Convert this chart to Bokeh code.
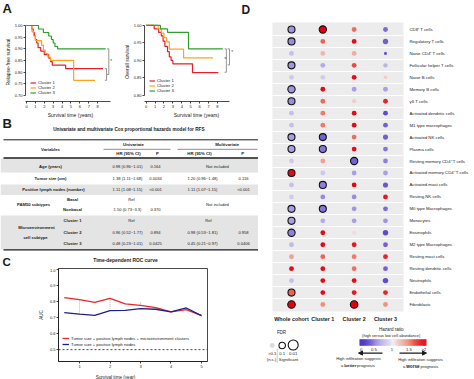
import numpy as np
from bokeh.plotting import figure
from bokeh.layouts import row, column
from bokeh.models import (Range1d, FixedTicker, NumeralTickFormatter, Legend, LegendItem,
                          ColumnDataSource, LinearColorMapper, Span, Arrow, NormalHead)
from bokeh.core.properties import value
from bokeh.embed import file_html
from bokeh.resources import INLINE

# ---------------------------------------------------------------- data
# Panel A - Kaplan-Meier curves (time in years, survival probability)
rfs_c1_t = [0, 0.6, 0.75, 0.9, 1.0, 1.15, 1.3, 1.6, 2.0, 2.5, 2.7, 2.9, 4.4, 8.6]
rfs_c1_s = [1.0, 0.985, 0.97, 0.955, 0.94, 0.925, 0.905, 0.89, 0.875, 0.86, 0.845, 0.83, 0.815, 0.815]
rfs_c2_t = [0, 0.6, 0.8, 1.0, 1.7, 1.9, 2.1, 2.4, 2.7, 5.3, 7.7]
rfs_c2_s = [1.0, 0.975, 0.955, 0.935, 0.915, 0.895, 0.88, 0.865, 0.85, 0.765, 0.765]
rfs_c3_t = [0, 1.35, 1.9, 2.5, 2.8, 3.0, 3.2, 3.5, 8.9]
rfs_c3_s = [1.0, 0.985, 0.97, 0.955, 0.94, 0.925, 0.91, 0.90, 0.90]

os_c1_t = [0, 0.9, 1.4, 1.7, 1.9, 2.1, 2.4, 2.6, 2.8, 3.0, 5.2, 8.1]
os_c1_s = [1.0, 0.99, 0.98, 0.97, 0.955, 0.94, 0.925, 0.91, 0.90, 0.89, 0.865, 0.865]
os_c2_t = [0, 1.35, 1.7, 2.0, 2.3, 2.6, 4.2, 7.5]
os_c2_s = [1.0, 0.99, 0.978, 0.965, 0.953, 0.932, 0.907, 0.907]
os_c3_t = [0, 1.6, 2.4, 4.75, 8.6]
os_c3_s = [1.0, 0.99, 0.98, 0.933, 0.933]

cluster_names = ["Cluster 1", "Cluster 2", "Cluster 3"]
km_xticks = [0, 1, 2, 3, 4, 5, 6, 7, 8]
rfs_yticks = [0.70, 0.75, 0.80, 0.85, 0.90, 0.95, 1.00]
os_yticks = [0.80, 0.85, 0.90, 0.95, 1.00]
# comparison brackets: (x, low, high) and significance star (x, y)
rfs_brackets = [(9.0, 0.765, 0.815), (9.25, 0.79, 0.90)]
rfs_star = (9.5, 0.845)
os_brackets = [(9.0, 0.907, 0.933), (9.0, 0.866, 0.907), (9.35, 0.887, 0.933)]
os_star = (9.65, 0.922)

# Panel B - Cox model table
tbl_variables = ["Age (years)", "Tumor size (cm)", "Positive lymph nodes (number)",
                 "PAM50 subtypes", "Microenvironment", "cell subtype"]
tbl_subgroups = ["", "", "", "Basal", "Nonbasal", "Cluster 1", "Cluster 2", "Cluster 3"]
uni_hr = ["0.98 (0.96~1.01)", "1.38 (1.11~1.68)", "1.11 (1.08~1.15)", "Ref",
          "1.50 (0.73~3.3)", "Ref", "0.96 (0.52~1.77)", "0.48 (0.23~1.01)"]
uni_p = ["0.164", "0.0034", "<0.001", "", "0.370", "", "0.894", "0.0425"]
multi_hr = ["Not included", "1.20 (0.96~1.48)", "1.11 (1.07~1.15)", "Not included",
            "", "Ref", "0.98 (0.53~1.81)", "0.45 (0.21~0.97)"]
multi_p = ["", "0.116", "<0.001", "", "", "", "0.958", "0.0406"]

# Panel C - time-dependent AUC
roc_t = [0.5, 1, 1.5, 2, 2.5, 3, 3.5, 4, 4.5, 5]
roc_full = [0.824, 0.812, 0.795, 0.82, 0.785, 0.776, 0.762, 0.735, 0.75, 0.712]
roc_base = [0.731, 0.722, 0.714, 0.743, 0.745, 0.756, 0.752, 0.735, 0.76, 0.712]
roc_ci_t = [1, 2, 3]
roc_ci_lo = [0.72, 0.74, 0.775]
roc_ci_hi = [0.815, 0.83, 0.795]
roc_xticks = [1, 2, 3, 4, 5]
roc_yticks = [0.5, 0.6, 0.7, 0.8, 0.9, 1.0]
roc_names = ["Tumor size + positive lymph nodes + microenvironment clusters",
             "Tumor size + positive lymph nodes"]

# Panel D - hazard ratio / FDR dot matrix
cells = ["CD8\u207a T cells", "Regulatory T cells", "Naive CD4\u207a T cells",
         "Follicular helper T cells", "Naive B cells", "Memory B cells", "\u03b3\u03b4 T cells",
         "Activated dendritic cells", "M1 type macrophages", "Activated NK cells",
         "Plasma cells", "Resting memory CD4\u207a T cells", "Activated memory CD4\u207a T cells",
         "Activated mast cells", "Resting NK cells", "M0 type Macrophages", "Monocytes",
         "Eosinophils", "M2 type Macrophages", "Resting mast cells", "Resting dendritic cells",
         "Neutrophils", "Endothelial cells", "Fibroblasts"]
groups = ["Whole cohort", "Cluster 1", "Cluster 2", "Cluster 3"]
hr_whole = [0.55, 0.5, 0.75, 0.55, 0.8, 0.55, 0.5, 0.75, 0.75, 0.6, 0.6, 0.8,
            1.95, 0.75, 0.82, 0.6, 0.6, 0.45, 0.72, 1.35, 1.95, 0.75, 1.6, 2.0]
fdr_whole = [0.07, 0.07, 0.3, 0.07, 0.3, 0.06, 0.07, 0.3, 0.3, 0.07, 0.07, 0.3,
             0.07, 0.3, 0.3, 0.07, 0.07, 0.06, 0.3, 0.3, 0.3, 0.3, 0.07, 0.05]
hr_c1 = [2.0, 1.6, 1.25, 0.65, 0.82, 1.95, 1.55, 1.5, 1.5, 0.3, 0.4, 1.35,
         0.8, 0.45, 0.5, 0.4, 0.65, 1.95, 1.95, 1.6, 1.95, 1.95, 1.95, 1.4]
fdr_c1 = [0.06, 0.3, 0.3, 0.3, 0.3, 0.3, 0.3, 0.3, 0.3, 0.07, 0.07, 0.3,
          0.3, 0.07, 0.3, 0.07, 0.3, 0.3, 0.3, 0.3, 0.3, 0.3, 0.3, 0.3]
hr_c2 = [1.55, 1.95, 1.3, 1.7, 1.95, 0.6, 1.15, 1.95, 1.95, 1.55, 1.95, 0.3,
         0.6, 1.95, 0.5, 0.55, 0.6, 1.1, 1.9, 1.5, 1.55, 1.95, 1.9, 2.0]
fdr_c2 = [0.3, 0.3, 0.3, 0.3, 0.3, 0.3, 0.45, 0.3, 0.3, 0.3, 0.3, 0.06,
          0.3, 0.3, 0.3, 0.3, 0.3, 0.45, 0.3, 0.3, 0.3, 0.3, 0.3, 0.05]
hr_c3 = [0.35, 0.3, 0.25, 0.7, 1.15, 0.6, 1.85, 0.2, 0.3, 0.3, 0.4, 0.45,
         0.6, 0.25, 1.9, 0.35, 0.55, 0.2, 0.3, 1.85, 0.3, 0.2, 1.85, 1.4]
fdr_c3 = [0.3, 0.2, 0.95, 0.4, 0.7, 0.3, 0.3, 0.3, 0.3, 0.25, 0.3, 0.3,
          0.3, 0.25, 0.3, 0.3, 0.3, 0.2, 0.3, 0.3, 0.3, 0.2, 0.3, 0.3]
legend_fdr = [0.3, 0.1, 0.01]
legend_fdr_labels = [">0.1", "0.1", "0.01"]
hr_ticks = ["0", "0.5", "1", "1.5", "\u22652"]

# ---------------------------------------------------------------- helpers
FONT = "Liberation Sans"
INK = "#1a1a1a"
RED, ORANGE, GREEN = "#e2202a", "#ffa21f", "#2f9e2f"


def fs(px):
    return f"{px:.2f}px"


def base_fig(x0, y0, x1, y1, frame, xr, yr, **kw):
    fl, ft, fr, fb = frame
    p = figure(width=x1 - x0, height=y1 - y0, x_range=xr, y_range=yr,
               output_backend="svg", toolbar_location=None, title=None,
               min_border_left=fl - x0, min_border_right=x1 - fr,
               min_border_top=ft - y0, min_border_bottom=y1 - fb,
               frame_align=False, **kw)
    p.outline_line_color = None
    return p


def pixfig(x0, y0, x1, y1):
    return base_fig(x0, y0, x1, y1, (x0, y0, x1, y1), Range1d(x0, x1), Range1d(y1, y0),
                    x_axis_type=None, y_axis_type=None)


def put(p, x, y, s, size, bold=False, italic=False, align="center", baseline="middle",
        color=INK):
    style = "bold" if bold else ("italic" if italic else "normal")
    p.text(x=[x], y=[y], text=[s], text_font=value(FONT), text_font_size=fs(size),
           text_font_style=style, text_align=align, text_baseline=baseline,
           text_color=color)


def style_axis(ax, lab=4.0, ttl=5.0):
    ax.axis_line_color = INK
    ax.axis_line_width = 0.8
    ax.major_tick_line_color = INK
    ax.major_tick_line_width = 0.8
    ax.major_tick_out = 2
    ax.major_tick_in = 0
    ax.minor_tick_line_color = None
    ax.minor_tick_out = 0
    ax.minor_tick_in = 0
    ax.major_label_text_font = FONT
    ax.major_label_text_font_size = fs(lab)
    ax.major_label_text_color = INK
    ax.axis_label_text_font = FONT
    ax.axis_label_text_font_size = fs(ttl)
    ax.axis_label_text_font_style = "normal"
    ax.axis_label_text_color = INK
    ax.major_label_standoff = 1
    ax.axis_label_standoff = 1


def small_legend(items, loc, size=4.2, gw=6, gh=5):
    return Legend(items=items, location=loc, orientation="vertical",
                  label_text_font=FONT, label_text_font_size=fs(size),
                  label_text_color=INK, glyph_width=gw, glyph_height=gh,
                  label_height=gh, label_standoff=2, spacing=0, padding=0, margin=0,
                  border_line_color=None, background_fill_alpha=0)


# ---------------------------------------------------------------- palette
stops_v = [0, 0.5, 1.0, 1.5, 2.0]
stops_c = ["#3a22c6", "#9a8ae0", "#f3f0f4", "#f17a68", "#e2000f"]
rgb = np.array([[int(c[i:i + 2], 16) for i in (1, 3, 5)] for c in stops_c])
palette = ["#%02x%02x%02x" % tuple(int(round(np.interp(g, stops_v, rgb[:, k])))
                                   for k in range(3)) for g in np.linspace(0, 2, 256)]
mapper = LinearColorMapper(palette=palette, low=0, high=2)


def dot_size(f):
    return 3 + 3.5 * (-np.log10(f))


# ---------------------------------------------------------------- header
head = pixfig(0, 0, 474, 16)
put(head, 2, 7.5, "A", 13, bold=True, align="left")
put(head, 241, 9, "D", 12, bold=True, align="left")


# ---------------------------------------------------------------- panel A
def km_plot(x0, y0, x1, y1, frame, xr, yr, yticks, ylabel, curves, brackets, star, loc):
    p = base_fig(x0, y0, x1, y1, frame, Range1d(*xr), Range1d(*yr))
    p.grid.grid_line_color = None
    items = []
    for t, s, color, name in curves:
        r = p.step(t, s, mode="after", line_color=color, line_width=1.2)
        items.append(LegendItem(label=name, renderers=[r]))
    for xb, lo, hi in brackets:
        p.segment(x0=[xb, xb - 0.2, xb - 0.2], y0=[lo, lo, hi],
                  x1=[xb, xb, xb], y1=[hi, lo, hi], line_color="#666666", line_width=0.7)
    put(p, star[0], star[1], "*", 4.5, color="#444444")
    p.xaxis.ticker = FixedTicker(ticks=km_xticks)
    p.yaxis.ticker = FixedTicker(ticks=yticks)
    p.yaxis.formatter = NumeralTickFormatter(format="0.00")
    p.xaxis.bounds = (xr[0], 9.4)
    p.yaxis.bounds = (yticks[0], yticks[-1])
    p.xaxis.axis_label = None
    p.yaxis.axis_label = ylabel
    style_axis(p.xaxis[0])
    style_axis(p.yaxis[0])
    p.add_layout(small_legend(items, loc))
    return p


a1 = km_plot(0, 16, 120, 110, (25, 22, 118, 101), (-0.112, 10.34), (0.674, 1.0129),
             rfs_yticks, "Relapse-free survival",
             [(rfs_c1_t, rfs_c1_s, RED, cluster_names[0]),
              (rfs_c2_t, rfs_c2_s, ORANGE, cluster_names[1]),
              (rfs_c3_t, rfs_c3_s, GREEN, cluster_names[2])],
             rfs_brackets, rfs_star, (5, 6))
a2 = km_plot(120, 16, 258, 110, (141, 22, 250, 102), (-0.186, 11.71), (0.7822, 1.0085),
             os_yticks, "Overall survival",
             [(os_c1_t, os_c1_s, RED, cluster_names[0]),
              (os_c2_t, os_c2_s, ORANGE, cluster_names[1]),
              (os_c3_t, os_c3_s, GREEN, cluster_names[2])],
             os_brackets, os_star, (5, 8))

# ---------------------------------------------------------------- panel B (table)
b = pixfig(0, 110, 258, 268)
put(b, 70, 114.7, "Survival time (years)", 5.0)
put(b, 196, 114.7, "Survival time (years)", 5.0)
put(b, 2, 122.5, "B", 13, bold=True, align="left")
put(b, 129, 129.3, "Univariate and multivariate Cox proportional hazards model  for RFS",
    4.7, bold=True)
band_top = [158, 184, 215]
band_bot = [172, 194.5, 249]
b.quad(left=0, right=258, top=band_top, bottom=band_bot, fill_color="#e4e4e4",
       line_color=None)
b.segment(x0=[3, 103, 177, 3, 3], x1=[258, 170, 257, 258, 258],
          y0=[139.3, 148.8, 148.8, 157.5, 249.3], y1=[139.3, 148.8, 148.8, 157.5, 249.3],
          line_color=INK, line_width=[1.0, 0.5, 0.5, 1.6, 1.2])
put(b, 133, 144.3, "Univariate", 4.3, bold=True)
put(b, 226.7, 144.3, "Multivariate", 4.3, bold=True)
put(b, 50, 149, "Variables", 4.3, bold=True)
for cx, lab in [(128, "HR (95% CI)"), (157, "P"), (199, "HR (95% CI)"), (242.3, "P")]:
    put(b, cx, 153.3, lab, 4.3, bold=True)

row_y = [166, 178.3, 189.3, 199.3, 209.3, 220, 232.3, 243.3]
var_pos = [(50, 166), (50, 178.3), (53, 189.3), (33, 204.3), (36, 227.3), (35, 236.7)]
for (vx, vy), lab in zip(var_pos, tbl_variables):
    put(b, vx, vy, lab, 4.2, bold=True)
for i, y in enumerate(row_y):
    if tbl_subgroups[i]:
        put(b, 72, y, tbl_subgroups[i], 4.2, bold=True)
    if uni_hr[i]:
        put(b, 131 if uni_hr[i] == "Ref" else 127, y, uni_hr[i], 4.1)
    if uni_p[i]:
        put(b, 155, y, uni_p[i], 4.1)
    if multi_hr[i] == "Not included":
        yy = y if i == 0 else (row_y[3] + row_y[4]) / 2
        put(b, 217, yy, multi_hr[i], 4.1)
    elif multi_hr[i]:
        put(b, 208 if multi_hr[i] == "Ref" else 202, y, multi_hr[i], 4.1)
    if multi_p[i]:
        put(b, 243, y, multi_p[i], 4.1)

put(b, 2, 261.6, "C", 11.5, bold=True, align="left")
put(b, 125, 260.3, "Time-dependent ROC curve", 4.9, bold=True)

# ---------------------------------------------------------------- panel C (ROC)
c = base_fig(0, 268, 258, 370, (58, 268, 207, 362), Range1d(0.311, 5.197),
             Range1d(0.426, 1.0062))
c.grid.grid_line_color = None
c.outline_line_color = INK
c.outline_line_width = 0.8
c.segment(x0=roc_ci_t, x1=roc_ci_t, y0=roc_ci_lo, y1=roc_ci_hi, line_color="#9a9a9a",
          line_width=0.7, line_dash="1 1")
c.add_layout(Span(location=0.5, dimension="width", line_color=INK, line_width=0.8,
                  line_dash="2 2"))
r_full = c.line(roc_t, roc_full, line_color="#e8262b", line_width=1.3)
r_base = c.line(roc_t, roc_base, line_color="#1f1f86", line_width=1.3)
c.xaxis.ticker = FixedTicker(ticks=roc_xticks)
c.yaxis.ticker = FixedTicker(ticks=roc_yticks)
c.yaxis.formatter = NumeralTickFormatter(format="0.0")
c.xaxis.axis_label = None
c.yaxis.axis_label = "AUC"
style_axis(c.xaxis[0], 4.0, 4.6)
style_axis(c.yaxis[0], 4.0, 4.6)
c.xaxis[0].major_label_standoff = 1
c.yaxis[0].axis_label_standoff = 3
c.add_layout(small_legend([LegendItem(label=roc_names[0], renderers=[r_full]),
                           LegendItem(label=roc_names[1], renderers=[r_base])],
                          (4, 14), size=4.2, gw=7, gh=6))
cx_strip = pixfig(0, 370, 258, 379)
put(cx_strip, 115, 374, "Survival time (year)", 4.6)

# ---------------------------------------------------------------- panel D (dot matrix)
d = base_fig(258, 16, 474, 324, (272, 22, 403, 312), Range1d(-0.606, 3.575),
             Range1d(23.583, -0.583), y_axis_location="right")
d.background_fill_color = "#ececec"
d.xgrid.grid_line_color = None
d.ygrid.ticker = FixedTicker(ticks=[i + 0.5 for i in range(len(cells) - 1)])
d.ygrid.grid_line_color = "white"
d.ygrid.grid_line_width = 1
xs, ys, hrs, sizes, lalpha = [], [], [], [], []
for gi, (hr_col, fdr_col) in enumerate([(hr_whole, fdr_whole), (hr_c1, fdr_c1),
                                        (hr_c2, fdr_c2), (hr_c3, fdr_c3)]):
    for ri in range(len(cells)):
        xs.append(gi)
        ys.append(ri)
        hrs.append(hr_col[ri])
        sizes.append(dot_size(fdr_col[ri]))
        lalpha.append(1.0 if fdr_col[ri] <= 0.1 else 0.0)
src = ColumnDataSource(dict(x=xs, y=ys, hr=hrs, size=sizes, la=lalpha))
d.scatter(x="x", y="y", size="size", source=src,
          fill_color={"field": "hr", "transform": mapper},
          line_color="#111111", line_alpha="la", line_width=1.1)
d.xaxis.ticker = FixedTicker(ticks=list(range(len(groups))))
d.xaxis.major_label_overrides = {i: g for i, g in enumerate(groups)}
d.yaxis.ticker = FixedTicker(ticks=list(range(len(cells))))
d.yaxis.major_label_overrides = {i: n for i, n in enumerate(cells)}
d.xaxis.axis_label = None
d.yaxis.axis_label = None
for ax in (d.xaxis[0], d.yaxis[0]):
    ax.axis_line_color = None
    ax.major_tick_line_color = None
    ax.minor_tick_line_color = None
    ax.major_tick_out = 0
    ax.major_tick_in = 0
    ax.minor_tick_out = 0
    ax.minor_tick_in = 0
    ax.major_label_text_font = FONT
    ax.major_label_text_color = INK
d.xaxis[0].major_label_text_font_size = fs(5.4)
d.xaxis[0].major_label_text_font_style = "bold"
d.xaxis[0].major_label_standoff = 4
d.yaxis[0].major_label_text_font_size = fs(4.3)
d.yaxis[0].major_label_standoff = 6

# ---------------------------------------------------------------- panel D legend
dl = pixfig(258, 324, 474, 379)
put(dl, 281, 332.3, "FDR", 4.5)
lg_x = [271.7, 281.7, 292.7]
lg_y = [345, 345, 344.5]
dl.scatter(x=lg_x, y=lg_y, size=[dot_size(f) for f in legend_fdr],
           fill_color=["#dcdcdc", "white", "white"], line_color="#111111",
           line_alpha=[0.0 if f > 0.1 else 1.0 for f in legend_fdr], line_width=1.1)
for xx, lab in zip(lg_x, legend_fdr_labels):
    put(dl, xx, 352.5, lab, 4.2)
put(dl, 271, 358.5, "(n.s.)", 4.2)
put(dl, 288, 358.5, "Significant", 4.2)
dl.segment(x0=[276.7], x1=[276.7], y0=[349], y1=[363], line_color="#555555",
           line_width=0.6, line_dash="1 1")
put(dl, 390.7, 329, "Hazard ratio", 4.5)
put(dl, 390.7, 334.5, "(high versus low cell abundance)", 4.0)
n_bar = 64
edges = np.linspace(359, 425.7, n_bar + 1)
bar_hr = np.linspace(0, 2, n_bar)
dl.quad(left=edges[:-1], right=edges[1:] + 0.3, top=338.7, bottom=345.3,
        fill_color=[palette[int(round(h / 2 * 255))] for h in bar_hr], line_color=None)
for xx, lab in zip([360.7, 373.3, 391.3, 408.3, 423.3], hr_ticks):
    put(dl, xx, 349, lab, 4.2)
dl.add_layout(Arrow(end=NormalHead(size=4, fill_color=INK, line_color=INK),
                    x_start=382, y_start=352.6, x_end=358, y_end=352.6,
                    line_color=INK, line_width=1.3))
dl.add_layout(Arrow(end=NormalHead(size=4, fill_color=INK, line_color=INK),
                    x_start=399, y_start=352.6, x_end=426, y_end=352.6,
                    line_color=INK, line_width=1.3))
put(dl, 358, 358.3, "High infiltration suggests", 4.1)
put(dl, 340.5, 364.5, "a", 4.1, align="left")
put(dl, 343.8, 364.5, "better", 4.4, bold=True, align="left")
put(dl, 356.5, 364.5, "prognosis", 4.1, align="left")
put(dl, 420, 359, "High infiltration suggests", 4.1)
put(dl, 402.5, 366, "a", 4.1, align="left")
put(dl, 405.8, 366, "worse", 4.6, bold=True, align="left")
put(dl, 420, 366, "prognosis", 4.1, align="left")

# ---------------------------------------------------------------- layout
left = column(row(a1, a2), b, c, cx_strip)
right = column(d, dl)
page = column(head, row(left, right))

open("out.html", "w").write(file_html(page, INLINE))
